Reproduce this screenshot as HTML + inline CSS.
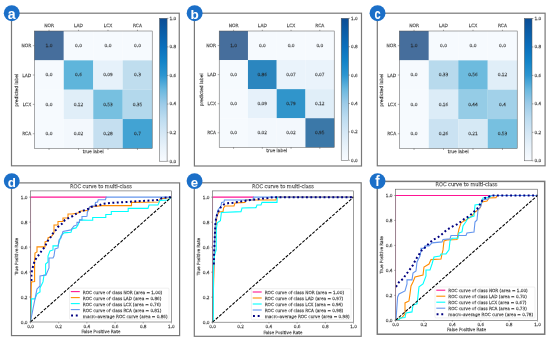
<!DOCTYPE html><html><head><meta charset="utf-8"><title>Figure</title>
<style>html,body{margin:0;padding:0;background:#fff}svg{display:block}.t text{fill:none;stroke:#1e1e1e;stroke-width:.26px}.h text{stroke-width:.19px;stroke:#111}</style></head><body>
<svg width="550" height="341" viewBox="0 0 550 341">
<defs><linearGradient id="cb" x1="0" y1="1" x2="0" y2="0">
<stop offset="0" stop-color="#f8fbff"/>
<stop offset="0.1" stop-color="#e8f2fa"/>
<stop offset="0.2" stop-color="#d4e7f5"/>
<stop offset="0.3" stop-color="#bcdcf0"/>
<stop offset="0.4" stop-color="#9ccbe8"/>
<stop offset="0.5" stop-color="#6ab8df"/>
<stop offset="0.6" stop-color="#2c96d1"/>
<stop offset="0.7" stop-color="#1283c8"/>
<stop offset="0.8" stop-color="#0a6fbc"/>
<stop offset="0.9" stop-color="#0a5ea8"/>
<stop offset="1" stop-color="#0b4c94"/>
</linearGradient></defs>
<rect width="550" height="341" fill="#fff"/>
<rect x="11.5" y="13.2" width="167.75" height="152.6" fill="#fff" stroke="#787878" stroke-width="1.2"/>
<rect x="194.4" y="13.2" width="167.1" height="152.8" fill="#fff" stroke="#787878" stroke-width="1.2"/>
<rect x="377.3" y="13.2" width="167.8" height="152.6" fill="#fff" stroke="#787878" stroke-width="1.2"/>
<rect x="11.5" y="182.9" width="168.1" height="152.7" fill="#fff" stroke="#787878" stroke-width="1.2"/>
<rect x="194.3" y="182.8" width="166.9" height="153.5" fill="#fff" stroke="#787878" stroke-width="1.2"/>
<rect x="377.3" y="181.4" width="167.4" height="152.8" fill="#fff" stroke="#787878" stroke-width="1.5"/>
<g font-family="DejaVu Sans, Liberation Sans, sans-serif" class="t" class="h" font-size="4.4" fill="#2a2a2a">
<rect x="34.3" y="31" width="29.52" height="29.4" fill="#466e9c"/>
<rect x="63.77" y="31" width="29.52" height="29.4" fill="#f6fafe"/>
<rect x="93.25" y="31" width="29.52" height="29.4" fill="#f6fafe"/>
<rect x="122.72" y="31" width="29.52" height="29.4" fill="#f6fafe"/>
<rect x="34.3" y="60.35" width="29.52" height="29.4" fill="#f6fafe"/>
<rect x="63.77" y="60.35" width="29.52" height="29.4" fill="#5fb5db"/>
<rect x="93.25" y="60.35" width="29.52" height="29.4" fill="#e6f1fa"/>
<rect x="122.72" y="60.35" width="29.52" height="29.4" fill="#bfddee"/>
<rect x="34.3" y="89.7" width="29.52" height="29.4" fill="#f6fafe"/>
<rect x="63.77" y="89.7" width="29.52" height="29.4" fill="#e0eef8"/>
<rect x="93.25" y="89.7" width="29.52" height="29.4" fill="#77c0e0"/>
<rect x="122.72" y="89.7" width="29.52" height="29.4" fill="#b3d8ec"/>
<rect x="34.3" y="119.05" width="29.52" height="29.4" fill="#f6fafe"/>
<rect x="63.77" y="119.05" width="29.52" height="29.4" fill="#f3f8fd"/>
<rect x="93.25" y="119.05" width="29.52" height="29.4" fill="#c5dff0"/>
<rect x="122.72" y="119.05" width="29.52" height="29.4" fill="#42a3d3"/>
<rect x="34.3" y="31" width="117.9" height="117.4" fill="none" stroke="#555" stroke-width="0.5"/>
<text x="49.04" y="46.92" text-anchor="middle" font-size="4.3">1.0</text>
<text x="78.51" y="46.92" text-anchor="middle" font-size="4.3">0.0</text>
<text x="107.99" y="46.92" text-anchor="middle" font-size="4.3">0.0</text>
<text x="137.46" y="46.92" text-anchor="middle" font-size="4.3">0.0</text>
<text x="49.04" y="76.28" text-anchor="middle" font-size="4.3">0.0</text>
<text x="78.51" y="76.28" text-anchor="middle" font-size="4.3">0.6</text>
<text x="107.99" y="76.28" text-anchor="middle" font-size="4.3">0.09</text>
<text x="137.46" y="76.28" text-anchor="middle" font-size="4.3">0.3</text>
<text x="49.04" y="105.62" text-anchor="middle" font-size="4.3">0.0</text>
<text x="78.51" y="105.62" text-anchor="middle" font-size="4.3">0.12</text>
<text x="107.99" y="105.62" text-anchor="middle" font-size="4.3">0.53</text>
<text x="137.46" y="105.62" text-anchor="middle" font-size="4.3">0.35</text>
<text x="49.04" y="134.98" text-anchor="middle" font-size="4.3">0.0</text>
<text x="78.51" y="134.98" text-anchor="middle" font-size="4.3">0.02</text>
<text x="107.99" y="134.98" text-anchor="middle" font-size="4.3">0.28</text>
<text x="137.46" y="134.98" text-anchor="middle" font-size="4.3">0.7</text>
<text x="49.04" y="27" text-anchor="middle">NOR</text>
<text x="31.2" y="47.17" text-anchor="end">NOR</text>
<path d="M49.04 31v-1.2M49.04 148.4v1.6M34.3 45.67h-1.5" stroke="#333" stroke-width="0.4"/>
<text x="78.51" y="27" text-anchor="middle">LAD</text>
<text x="31.2" y="76.53" text-anchor="end">LAD</text>
<path d="M78.51 31v-1.2M78.51 148.4v1.6M34.3 75.03h-1.5" stroke="#333" stroke-width="0.4"/>
<text x="107.99" y="27" text-anchor="middle">LCX</text>
<text x="31.2" y="105.88" text-anchor="end">LCX</text>
<path d="M107.99 31v-1.2M107.99 148.4v1.6M34.3 104.38h-1.5" stroke="#333" stroke-width="0.4"/>
<text x="137.46" y="27" text-anchor="middle">RCA</text>
<text x="31.2" y="135.23" text-anchor="end">RCA</text>
<path d="M137.46 31v-1.2M137.46 148.4v1.6M34.3 133.73h-1.5" stroke="#333" stroke-width="0.4"/>
<text transform="translate(18.3 90.3) rotate(-90)" text-anchor="middle">predicted label</text>
<text x="93.25" y="153.3" text-anchor="middle">true label</text>
<rect x="159.5" y="18.3" width="7.6" height="142.9" fill="url(#cb)" stroke="#555" stroke-width="0.5"/>
<path d="M167.1 161.2h1.4" stroke="#333" stroke-width="0.4"/>
<text x="169.6" y="162.6" font-size="4.2">0.0</text>
<path d="M167.1 132.62h1.4" stroke="#333" stroke-width="0.4"/>
<text x="169.6" y="134.02" font-size="4.2">0.2</text>
<path d="M167.1 104.04h1.4" stroke="#333" stroke-width="0.4"/>
<text x="169.6" y="105.44" font-size="4.2">0.4</text>
<path d="M167.1 75.46h1.4" stroke="#333" stroke-width="0.4"/>
<text x="169.6" y="76.86" font-size="4.2">0.6</text>
<path d="M167.1 46.88h1.4" stroke="#333" stroke-width="0.4"/>
<text x="169.6" y="48.28" font-size="4.2">0.8</text>
<path d="M167.1 18.3h1.4" stroke="#333" stroke-width="0.4"/>
<text x="169.6" y="19.7" font-size="4.2">1.0</text>
</g>
<g font-family="DejaVu Sans, Liberation Sans, sans-serif" class="t" class="h" font-size="4.4" fill="#2a2a2a">
<rect x="219.2" y="31" width="28.8" height="29.13" fill="#466e9c"/>
<rect x="247.95" y="31" width="28.8" height="29.13" fill="#f6fafe"/>
<rect x="276.7" y="31" width="28.8" height="29.13" fill="#f6fafe"/>
<rect x="305.45" y="31" width="28.8" height="29.13" fill="#f6fafe"/>
<rect x="219.2" y="60.08" width="28.8" height="29.13" fill="#f6fafe"/>
<rect x="247.95" y="60.08" width="28.8" height="29.13" fill="#2b86bf"/>
<rect x="276.7" y="60.08" width="28.8" height="29.13" fill="#eaf3fb"/>
<rect x="305.45" y="60.08" width="28.8" height="29.13" fill="#eaf3fb"/>
<rect x="219.2" y="89.15" width="28.8" height="29.13" fill="#f6fafe"/>
<rect x="247.95" y="89.15" width="28.8" height="29.13" fill="#e6f1fa"/>
<rect x="276.7" y="89.15" width="28.8" height="29.13" fill="#3095cb"/>
<rect x="305.45" y="89.15" width="28.8" height="29.13" fill="#e0eef8"/>
<rect x="219.2" y="118.23" width="28.8" height="29.13" fill="#f6fafe"/>
<rect x="247.95" y="118.23" width="28.8" height="29.13" fill="#f3f8fd"/>
<rect x="276.7" y="118.23" width="28.8" height="29.13" fill="#f3f8fd"/>
<rect x="305.45" y="118.23" width="28.8" height="29.13" fill="#3b78a8"/>
<rect x="219.2" y="31" width="115" height="116.3" fill="none" stroke="#555" stroke-width="0.5"/>
<text x="233.57" y="46.79" text-anchor="middle" font-size="4.3">1.0</text>
<text x="262.32" y="46.79" text-anchor="middle" font-size="4.3">0.0</text>
<text x="291.07" y="46.79" text-anchor="middle" font-size="4.3">0.0</text>
<text x="319.82" y="46.79" text-anchor="middle" font-size="4.3">0.0</text>
<text x="233.57" y="75.86" text-anchor="middle" font-size="4.3">0.0</text>
<text x="262.32" y="75.86" text-anchor="middle" font-size="4.3">0.86</text>
<text x="291.07" y="75.86" text-anchor="middle" font-size="4.3">0.07</text>
<text x="319.82" y="75.86" text-anchor="middle" font-size="4.3">0.07</text>
<text x="233.57" y="104.94" text-anchor="middle" font-size="4.3">0.0</text>
<text x="262.32" y="104.94" text-anchor="middle" font-size="4.3">0.09</text>
<text x="291.07" y="104.94" text-anchor="middle" font-size="4.3">0.79</text>
<text x="319.82" y="104.94" text-anchor="middle" font-size="4.3">0.12</text>
<text x="233.57" y="134.01" text-anchor="middle" font-size="4.3">0.0</text>
<text x="262.32" y="134.01" text-anchor="middle" font-size="4.3">0.02</text>
<text x="291.07" y="134.01" text-anchor="middle" font-size="4.3">0.02</text>
<text x="319.82" y="134.01" text-anchor="middle" font-size="4.3">0.95</text>
<text x="233.57" y="27" text-anchor="middle">NOR</text>
<text x="216.1" y="47.04" text-anchor="end">NOR</text>
<path d="M233.57 31v-1.2M233.57 147.3v1.6M219.2 45.54h-1.5" stroke="#333" stroke-width="0.4"/>
<text x="262.32" y="27" text-anchor="middle">LAD</text>
<text x="216.1" y="76.11" text-anchor="end">LAD</text>
<path d="M262.32 31v-1.2M262.32 147.3v1.6M219.2 74.61h-1.5" stroke="#333" stroke-width="0.4"/>
<text x="291.07" y="27" text-anchor="middle">LCX</text>
<text x="216.1" y="105.19" text-anchor="end">LCX</text>
<path d="M291.07 31v-1.2M291.07 147.3v1.6M219.2 103.69h-1.5" stroke="#333" stroke-width="0.4"/>
<text x="319.82" y="27" text-anchor="middle">RCA</text>
<text x="216.1" y="134.26" text-anchor="end">RCA</text>
<path d="M319.82 31v-1.2M319.82 147.3v1.6M219.2 132.76h-1.5" stroke="#333" stroke-width="0.4"/>
<text transform="translate(203.2 89.75) rotate(-90)" text-anchor="middle">predicted label</text>
<text x="276.7" y="152.2" text-anchor="middle">true label</text>
<rect x="341.2" y="18.3" width="7.4" height="142" fill="url(#cb)" stroke="#555" stroke-width="0.5"/>
<path d="M348.6 160.3h1.4" stroke="#333" stroke-width="0.4"/>
<text x="351.1" y="161.7" font-size="4.2">0.0</text>
<path d="M348.6 131.9h1.4" stroke="#333" stroke-width="0.4"/>
<text x="351.1" y="133.3" font-size="4.2">0.2</text>
<path d="M348.6 103.5h1.4" stroke="#333" stroke-width="0.4"/>
<text x="351.1" y="104.9" font-size="4.2">0.4</text>
<path d="M348.6 75.1h1.4" stroke="#333" stroke-width="0.4"/>
<text x="351.1" y="76.5" font-size="4.2">0.6</text>
<path d="M348.6 46.7h1.4" stroke="#333" stroke-width="0.4"/>
<text x="351.1" y="48.1" font-size="4.2">0.8</text>
<path d="M348.6 18.3h1.4" stroke="#333" stroke-width="0.4"/>
<text x="351.1" y="19.7" font-size="4.2">1.0</text>
</g>
<g font-family="DejaVu Sans, Liberation Sans, sans-serif" class="t" class="h" font-size="4.4" fill="#2a2a2a">
<rect x="399.3" y="31" width="29.53" height="29.4" fill="#466e9c"/>
<rect x="428.78" y="31" width="29.53" height="29.4" fill="#f6fafe"/>
<rect x="458.25" y="31" width="29.53" height="29.4" fill="#f6fafe"/>
<rect x="487.73" y="31" width="29.53" height="29.4" fill="#f6fafe"/>
<rect x="399.3" y="60.35" width="29.53" height="29.4" fill="#f6fafe"/>
<rect x="428.78" y="60.35" width="29.53" height="29.4" fill="#b8daed"/>
<rect x="458.25" y="60.35" width="29.53" height="29.4" fill="#6dbbde"/>
<rect x="487.73" y="60.35" width="29.53" height="29.4" fill="#e0eef8"/>
<rect x="399.3" y="89.7" width="29.53" height="29.4" fill="#f6fafe"/>
<rect x="428.78" y="89.7" width="29.53" height="29.4" fill="#dcecf7"/>
<rect x="458.25" y="89.7" width="29.53" height="29.4" fill="#95cce6"/>
<rect x="487.73" y="89.7" width="29.53" height="29.4" fill="#a2d1e9"/>
<rect x="399.3" y="119.05" width="29.53" height="29.4" fill="#f6fafe"/>
<rect x="428.78" y="119.05" width="29.53" height="29.4" fill="#cae2f2"/>
<rect x="458.25" y="119.05" width="29.53" height="29.4" fill="#d6e9f5"/>
<rect x="487.73" y="119.05" width="29.53" height="29.4" fill="#77c0e0"/>
<rect x="399.3" y="31" width="117.9" height="117.4" fill="none" stroke="#555" stroke-width="0.5"/>
<text x="414.04" y="46.92" text-anchor="middle" font-size="4.3">1.0</text>
<text x="443.51" y="46.92" text-anchor="middle" font-size="4.3">0.0</text>
<text x="472.99" y="46.92" text-anchor="middle" font-size="4.3">0.0</text>
<text x="502.46" y="46.92" text-anchor="middle" font-size="4.3">0.0</text>
<text x="414.04" y="76.28" text-anchor="middle" font-size="4.3">0.0</text>
<text x="443.51" y="76.28" text-anchor="middle" font-size="4.3">0.33</text>
<text x="472.99" y="76.28" text-anchor="middle" font-size="4.3">0.56</text>
<text x="502.46" y="76.28" text-anchor="middle" font-size="4.3">0.12</text>
<text x="414.04" y="105.62" text-anchor="middle" font-size="4.3">0.0</text>
<text x="443.51" y="105.62" text-anchor="middle" font-size="4.3">0.16</text>
<text x="472.99" y="105.62" text-anchor="middle" font-size="4.3">0.44</text>
<text x="502.46" y="105.62" text-anchor="middle" font-size="4.3">0.4</text>
<text x="414.04" y="134.98" text-anchor="middle" font-size="4.3">0.0</text>
<text x="443.51" y="134.98" text-anchor="middle" font-size="4.3">0.26</text>
<text x="472.99" y="134.98" text-anchor="middle" font-size="4.3">0.21</text>
<text x="502.46" y="134.98" text-anchor="middle" font-size="4.3">0.53</text>
<text x="414.04" y="27" text-anchor="middle">NOR</text>
<text x="396.2" y="47.17" text-anchor="end">NOR</text>
<path d="M414.04 31v-1.2M414.04 148.4v1.6M399.3 45.67h-1.5" stroke="#333" stroke-width="0.4"/>
<text x="443.51" y="27" text-anchor="middle">LAD</text>
<text x="396.2" y="76.53" text-anchor="end">LAD</text>
<path d="M443.51 31v-1.2M443.51 148.4v1.6M399.3 75.03h-1.5" stroke="#333" stroke-width="0.4"/>
<text x="472.99" y="27" text-anchor="middle">LCX</text>
<text x="396.2" y="105.88" text-anchor="end">LCX</text>
<path d="M472.99 31v-1.2M472.99 148.4v1.6M399.3 104.38h-1.5" stroke="#333" stroke-width="0.4"/>
<text x="502.46" y="27" text-anchor="middle">RCA</text>
<text x="396.2" y="135.23" text-anchor="end">RCA</text>
<path d="M502.46 31v-1.2M502.46 148.4v1.6M399.3 133.73h-1.5" stroke="#333" stroke-width="0.4"/>
<text transform="translate(383.3 90.3) rotate(-90)" text-anchor="middle">predicted label</text>
<text x="458.25" y="153.3" text-anchor="middle">true label</text>
<rect x="524.4" y="18.5" width="7.6" height="142.3" fill="url(#cb)" stroke="#555" stroke-width="0.5"/>
<path d="M532 160.8h1.4" stroke="#333" stroke-width="0.4"/>
<text x="534.5" y="162.2" font-size="4.2">0.0</text>
<path d="M532 132.34h1.4" stroke="#333" stroke-width="0.4"/>
<text x="534.5" y="133.74" font-size="4.2">0.2</text>
<path d="M532 103.88h1.4" stroke="#333" stroke-width="0.4"/>
<text x="534.5" y="105.28" font-size="4.2">0.4</text>
<path d="M532 75.42h1.4" stroke="#333" stroke-width="0.4"/>
<text x="534.5" y="76.82" font-size="4.2">0.6</text>
<path d="M532 46.96h1.4" stroke="#333" stroke-width="0.4"/>
<text x="534.5" y="48.36" font-size="4.2">0.8</text>
<path d="M532 18.5h1.4" stroke="#333" stroke-width="0.4"/>
<text x="534.5" y="19.9" font-size="4.2">1.0</text>
</g>
<g font-family="DejaVu Sans, Liberation Sans, sans-serif" class="t" font-size="4.2" fill="#2a2a2a">
<clipPath id="cpd"><rect x="30.5" y="190.9" width="140.9" height="131.1"/></clipPath>
<g clip-path="url(#cpd)">
<polyline points="30.5,322 30.5,197.14" fill="none" stroke="#ff1493" stroke-width="1.1" stroke-linejoin="miter" stroke-opacity="0.5"/>
<polyline points="30.5,197.14 106.5,197.14" fill="none" stroke="#ff1493" stroke-width="1.1" stroke-linejoin="miter" />
<polyline points="30.5,321.5 31.4,282 34.6,281.5 34.6,262 35,253 37,251.9 37,246.9 45,246.9 45,241.9 48,240.9 48,237.9 52,235.9 54,232.9 54,225 58,225 58,221.5 63,221.5 63,218 68,218 68,214 72,214 78,213 81,211 88,210.4 90,207 102,205.6 131.5,205.6 131.5,202.4 159,202 160,199 171.4,197.14 171.4,197.14" fill="none" stroke="#ff8c00" stroke-width="1.1" stroke-linejoin="miter" />
<polyline points="30.5,321.5 31.4,302.9 31.4,298.9 35,298.9 37,293.9 40,291.9 40,287.9 43,281.9 44,275 45.6,275 45.6,264 48,262 48,256 50,250.9 53,249.9 53,245.9 58,245.9 61,235.9 64,232.9 71,232.3 72,228.9 76,227.9 78,224.9 80,219.9 88,220.2 92.7,220.2 92.7,217.5 105.8,217.5 105.8,214.5 111.3,214.5 111.3,211.5 128.2,211.5 128.2,208.4 148,208.4 149,205 158,205 160,200.4 168,200 171.4,197.14 171.4,197.14" fill="none" stroke="#00ffff" stroke-width="1.1" stroke-linejoin="miter" />
<polyline points="30.5,321.5 36,293.9 37,288.9 40,285.9 40,276 46,275 49,268 49,258 53,258 54,256 55,248.9 58,247.9 59,239.9 61,237.9 63,231.5 71,229.9 74,225.9 77,224.9 77,222.4 79.5,222.4 79.5,219.9 82,219.9 82,216.5 86,216.5 87,216.2 87.3,212.4 88.9,209.1 90,206.4 94.9,205.8 95.5,202.5 97.6,202 98.2,199.8 105.5,199.6 106.2,197.14 171.4,197.14" fill="none" stroke="#6495ed" stroke-width="1.1" stroke-linejoin="miter" />
<polyline points="31.4,281 31.4,273 32.4,269 33.4,265 34.6,261 37,257 40,253.5 42,249.9 45,246.9 47,241.9 49.4,238.9 51.6,235.9 53.5,232.3 56,229.9 58,226.9 62.3,223.5 65,219.9 69,217.9 73,215.9 76,213.9 79.5,212 84,210.4 88,209 91,207 96,205.6 100,205 102,204 110,203 132,201.6 158,200 162,198 171.4,197.14 171.4,197.14" fill="none" stroke="#000080" stroke-width="2.0" stroke-linejoin="miter" stroke-dasharray="1.9 2.5"/>
<line x1="30.5" y1="322" x2="171.4" y2="197.14" stroke="#000" stroke-width="1.05" stroke-dasharray="3.1 1.35"/>
</g>
<rect x="30.5" y="190.9" width="140.9" height="131.1" fill="none" stroke="#5a5a5a" stroke-width="0.6"/>
<path d="M30.5 322v1.5M30.5 322h-1.5" stroke="#333" stroke-width="0.35"/>
<text x="30.5" y="327.6" text-anchor="middle">0.0</text>
<text x="27.5" y="323.5" text-anchor="end">0.0</text>
<path d="M58.68 322v1.5M30.5 297.03h-1.5" stroke="#333" stroke-width="0.35"/>
<text x="58.68" y="327.6" text-anchor="middle">0.2</text>
<text x="27.5" y="298.53" text-anchor="end">0.2</text>
<path d="M86.86 322v1.5M30.5 272.06h-1.5" stroke="#333" stroke-width="0.35"/>
<text x="86.86" y="327.6" text-anchor="middle">0.4</text>
<text x="27.5" y="273.56" text-anchor="end">0.4</text>
<path d="M115.04 322v1.5M30.5 247.09h-1.5" stroke="#333" stroke-width="0.35"/>
<text x="115.04" y="327.6" text-anchor="middle">0.6</text>
<text x="27.5" y="248.59" text-anchor="end">0.6</text>
<path d="M143.22 322v1.5M30.5 222.11h-1.5" stroke="#333" stroke-width="0.35"/>
<text x="143.22" y="327.6" text-anchor="middle">0.8</text>
<text x="27.5" y="223.61" text-anchor="end">0.8</text>
<path d="M171.4 322v1.5M30.5 197.14h-1.5" stroke="#333" stroke-width="0.35"/>
<text x="171.4" y="327.6" text-anchor="middle">1.0</text>
<text x="27.5" y="198.64" text-anchor="end">1.0</text>
<text x="100.95" y="332.9" text-anchor="middle">False Positive Rate</text>
<text transform="translate(17.9 256.45) rotate(-90)" text-anchor="middle">True Positive Rate</text>
<text x="100.95" y="188.15" text-anchor="middle" font-size="5.02">ROC curve to multi-class</text>
<rect x="69.5" y="288.2" width="99.5" height="31" rx="0.9" fill="#fff" fill-opacity="0.8" stroke="#d8d8d8" stroke-width="0.4"/>
<line x1="70.8" y1="291.6" x2="79.8" y2="291.6" stroke="#ff1493" stroke-width="1.1"/>
<text x="82.8" y="293.6">ROC curve of class NOR (area = 1.00)</text>
<line x1="70.8" y1="297.6" x2="79.8" y2="297.6" stroke="#ff8c00" stroke-width="1.1"/>
<text x="82.8" y="299.6">ROC curve of class LAD (area = 0.86)</text>
<line x1="70.8" y1="303.6" x2="79.8" y2="303.6" stroke="#00ffff" stroke-width="1.1"/>
<text x="82.8" y="305.6">ROC curve of class LCX (area = 0.76)</text>
<line x1="70.8" y1="309.6" x2="79.8" y2="309.6" stroke="#6495ed" stroke-width="1.1"/>
<text x="82.8" y="311.6">ROC curve of class RCA (area = 0.81)</text>
<line x1="71.1" y1="315.6" x2="79.8" y2="315.6" stroke="#000080" stroke-width="2.0" stroke-dasharray="1.9 2.8"/>
<text x="82.8" y="317.6">macro-average ROC curve (area = 0.86)</text>
</g>
<g font-family="DejaVu Sans, Liberation Sans, sans-serif" class="t" font-size="4.2" fill="#2a2a2a">
<clipPath id="cpe"><rect x="212.5" y="190.9" width="141" height="131.3"/></clipPath>
<g clip-path="url(#cpe)">
<polyline points="212.5,322.2 212.5,197.15" fill="none" stroke="#ff1493" stroke-width="1.1" stroke-linejoin="miter" stroke-opacity="0.5"/>
<polyline points="212.5,197.15 253.8,197.15" fill="none" stroke="#ff1493" stroke-width="1.1" stroke-linejoin="miter" />
<polyline points="212.5,321.8 214.4,256 215,234 216,224 217,216 219,212 223,211.6 223.6,208 225,206 234,206 235,203 245,202.4 246,200 276,200 277,197.15 353.5,197.15" fill="none" stroke="#ff8c00" stroke-width="1.1" stroke-linejoin="miter" />
<polyline points="212.5,321.8 214,256 215,228 216,218 218,210 221,206 221.6,202.4 224,202 224.4,200 253,200 253.5,197.15 353.5,197.15" fill="none" stroke="#6495ed" stroke-width="1.1" stroke-linejoin="miter" />
<polyline points="212.5,322.2 213.3,320 213.4,268 214.6,255 216.2,250 216.3,229 217.3,222.8 220.4,220.7 221.4,212.5 241,211.6 242,208 256,207.6 257,205 261,205 262,202.4 277,202.4 277.3,197.15" fill="none" stroke="#00ffff" stroke-width="1.1" stroke-linejoin="miter" />
<polyline points="213.8,264.5 214,256 214.3,248 214.6,240 215,232 215.4,224 216,219 217,215 219,210 221,207 224,204.4 228,203.2 233,202.8 238,202 244,201 250,200 256,199.4 262,198.6 268,198 273,197.15 277,197.15 353.5,197.15" fill="none" stroke="#000080" stroke-width="2.0" stroke-linejoin="miter" stroke-dasharray="1.9 2.5"/>
<line x1="212.5" y1="322.2" x2="353.5" y2="197.15" stroke="#000" stroke-width="1.05" stroke-dasharray="3.1 1.35"/>
</g>
<rect x="212.5" y="190.9" width="141" height="131.3" fill="none" stroke="#5a5a5a" stroke-width="0.6"/>
<path d="M212.5 322.2v1.5M212.5 322.2h-1.5" stroke="#333" stroke-width="0.35"/>
<text x="212.5" y="327.8" text-anchor="middle">0.0</text>
<text x="209.5" y="323.7" text-anchor="end">0.0</text>
<path d="M240.7 322.2v1.5M212.5 297.19h-1.5" stroke="#333" stroke-width="0.35"/>
<text x="240.7" y="327.8" text-anchor="middle">0.2</text>
<text x="209.5" y="298.69" text-anchor="end">0.2</text>
<path d="M268.9 322.2v1.5M212.5 272.18h-1.5" stroke="#333" stroke-width="0.35"/>
<text x="268.9" y="327.8" text-anchor="middle">0.4</text>
<text x="209.5" y="273.68" text-anchor="end">0.4</text>
<path d="M297.1 322.2v1.5M212.5 247.17h-1.5" stroke="#333" stroke-width="0.35"/>
<text x="297.1" y="327.8" text-anchor="middle">0.6</text>
<text x="209.5" y="248.67" text-anchor="end">0.6</text>
<path d="M325.3 322.2v1.5M212.5 222.16h-1.5" stroke="#333" stroke-width="0.35"/>
<text x="325.3" y="327.8" text-anchor="middle">0.8</text>
<text x="209.5" y="223.66" text-anchor="end">0.8</text>
<path d="M353.5 322.2v1.5M212.5 197.15h-1.5" stroke="#333" stroke-width="0.35"/>
<text x="353.5" y="327.8" text-anchor="middle">1.0</text>
<text x="209.5" y="198.65" text-anchor="end">1.0</text>
<text x="283" y="333.9" text-anchor="middle">False Positive Rate</text>
<text transform="translate(199.9 256.55) rotate(-90)" text-anchor="middle">True Positive Rate</text>
<text x="283" y="188.15" text-anchor="middle" font-size="5.02">ROC curve to multi-class</text>
<rect x="251.4" y="288.7" width="99.6" height="31" rx="0.9" fill="#fff" fill-opacity="0.8" stroke="#d8d8d8" stroke-width="0.4"/>
<line x1="252.7" y1="292" x2="261.7" y2="292" stroke="#ff1493" stroke-width="1.1"/>
<text x="264.7" y="294.3">ROC curve of class NOR (area = 1.00)</text>
<line x1="252.7" y1="298" x2="261.7" y2="298" stroke="#ff8c00" stroke-width="1.1"/>
<text x="264.7" y="300.3">ROC curve of class LAD (area = 0.97)</text>
<line x1="252.7" y1="304" x2="261.7" y2="304" stroke="#00ffff" stroke-width="1.1"/>
<text x="264.7" y="306.3">ROC curve of class LCX (area = 0.94)</text>
<line x1="252.7" y1="310" x2="261.7" y2="310" stroke="#6495ed" stroke-width="1.1"/>
<text x="264.7" y="312.3">ROC curve of class RCA (area = 0.98)</text>
<line x1="253" y1="316" x2="261.7" y2="316" stroke="#000080" stroke-width="2.0" stroke-dasharray="1.9 2.8"/>
<text x="264.7" y="318.3">macro-average ROC curve (area = 0.98)</text>
</g>
<g font-family="DejaVu Sans, Liberation Sans, sans-serif" class="t" font-size="4.2" fill="#2a2a2a">
<clipPath id="cpf"><rect x="395.5" y="189.2" width="142.1" height="131.1"/></clipPath>
<g clip-path="url(#cpf)">
<polyline points="395.5,320.3 395.5,195.44" fill="none" stroke="#ff1493" stroke-width="1.1" stroke-linejoin="miter" stroke-opacity="0.5"/>
<polyline points="395.5,195.44 489.3,195.44" fill="none" stroke="#ff1493" stroke-width="1.1" stroke-linejoin="miter" />
<polyline points="395.5,320 399,318.9 402,317.5 405,313.9 405,302.9 409,300.9 410,293.9 411,285.9 413,281.9 415,277 423,275 424,267 429,264 431,259.6 441,259 442,254 443,249.9 444,240.9 447,239.9 457,239.5 458,233.9 459,228.9 461,222.9 464,220.9 466,220 469,218 472,216 475,212 478,210 480,208 482,202 487,201 489,198 496,197.6 497,195.44 537.6,195.44" fill="none" stroke="#ff8c00" stroke-width="1.1" stroke-linejoin="miter" />
<polyline points="395.5,320 399,319.5 401,317.9 405,317.5 406,312.9 412,311.9 413,304.9 417,303.9 418,295.9 419,286.9 423,283.9 426,276 426,270 430,270 432,264 434,257 440,256 441,254 446,253.9 449,249.9 450,240.9 452,238.3 458,238.3 459,232.9 462,231.9 463,225.9 466,221.5 468,218 474,216 475,205 481,204 483,198 490,197 492,195.44 537.6,195.44" fill="none" stroke="#00ffff" stroke-width="1.1" stroke-linejoin="miter" />
<polyline points="396,319.9 397.6,296.9 399,293.9 405,290.9 407,283.9 407,279.9 412,279.9 413,273 416,271 417,262 420,256 421,250.9 421,248.4 425,248.4 425,245.9 429,245.9 432,242.9 442,241.9 443,239.5 450,238.9 451,235.5 466,235.5 467,233 474,232 475,222 477,220 478,210 481,206 482,200 488,199 489,195.44 537.6,195.44" fill="none" stroke="#6495ed" stroke-width="1.1" stroke-linejoin="miter" />
<polyline points="396,287 397.6,284 400,281 403,279 405.6,275 408,272 410.6,268.4 413,265 415,261 417,257.6 419,254.6 422,249.9 424.5,247.9 427.5,244.9 430,242.5 433.5,239.5 437,237.9 440.5,235.5 443.5,232.9 446.3,230.3 450,227.9 453.5,225.9 457,224.3 461,221.5 464.3,218.9 466,218 470,215.5 473.6,212 477,209 479.6,205 482,201 484,198.4 488,197 492,195.44 496,195.44 500,195.44 537.6,195.44" fill="none" stroke="#000080" stroke-width="2.0" stroke-linejoin="miter" stroke-dasharray="1.9 2.5"/>
<line x1="395.5" y1="320.3" x2="537.6" y2="195.44" stroke="#000" stroke-width="1.05" stroke-dasharray="3.1 1.35"/>
</g>
<rect x="395.5" y="189.2" width="142.1" height="131.1" fill="none" stroke="#5a5a5a" stroke-width="0.6"/>
<path d="M395.5 320.3v1.5M395.5 320.3h-1.5" stroke="#333" stroke-width="0.35"/>
<text x="395.5" y="325.9" text-anchor="middle">0.0</text>
<text x="392.5" y="321.8" text-anchor="end">0.0</text>
<path d="M423.92 320.3v1.5M395.5 295.33h-1.5" stroke="#333" stroke-width="0.35"/>
<text x="423.92" y="325.9" text-anchor="middle">0.2</text>
<text x="392.5" y="296.83" text-anchor="end">0.2</text>
<path d="M452.34 320.3v1.5M395.5 270.36h-1.5" stroke="#333" stroke-width="0.35"/>
<text x="452.34" y="325.9" text-anchor="middle">0.4</text>
<text x="392.5" y="271.86" text-anchor="end">0.4</text>
<path d="M480.76 320.3v1.5M395.5 245.39h-1.5" stroke="#333" stroke-width="0.35"/>
<text x="480.76" y="325.9" text-anchor="middle">0.6</text>
<text x="392.5" y="246.89" text-anchor="end">0.6</text>
<path d="M509.18 320.3v1.5M395.5 220.41h-1.5" stroke="#333" stroke-width="0.35"/>
<text x="509.18" y="325.9" text-anchor="middle">0.8</text>
<text x="392.5" y="221.91" text-anchor="end">0.8</text>
<path d="M537.6 320.3v1.5M395.5 195.44h-1.5" stroke="#333" stroke-width="0.35"/>
<text x="537.6" y="325.9" text-anchor="middle">1.0</text>
<text x="392.5" y="196.94" text-anchor="end">1.0</text>
<text x="466.55" y="331.2" text-anchor="middle">False Positive Rate</text>
<text transform="translate(382.9 254.75) rotate(-90)" text-anchor="middle">True Positive Rate</text>
<text x="466.55" y="186.45" text-anchor="middle" font-size="5.02">ROC curve to multi-class</text>
<rect x="435" y="287" width="100" height="30.9" rx="0.9" fill="#fff" fill-opacity="0.8" stroke="#d8d8d8" stroke-width="0.4"/>
<line x1="436.3" y1="290.2" x2="445.3" y2="290.2" stroke="#ff1493" stroke-width="1.1"/>
<text x="448.3" y="291.75">ROC curve of class NOR (area = 1.00)</text>
<line x1="436.3" y1="296.2" x2="445.3" y2="296.2" stroke="#ff8c00" stroke-width="1.1"/>
<text x="448.3" y="297.75">ROC curve of class LAD (area = 0.70)</text>
<line x1="436.3" y1="302.2" x2="445.3" y2="302.2" stroke="#00ffff" stroke-width="1.1"/>
<text x="448.3" y="303.75">ROC curve of class LCX (area = 0.67)</text>
<line x1="436.3" y1="308.2" x2="445.3" y2="308.2" stroke="#6495ed" stroke-width="1.1"/>
<text x="448.3" y="309.75">ROC curve of class RCA (area = 0.73)</text>
<line x1="436.6" y1="314.2" x2="445.3" y2="314.2" stroke="#000080" stroke-width="2.0" stroke-dasharray="1.9 2.8"/>
<text x="448.3" y="315.75">macro-average ROC curve (area = 0.78)</text>
</g>
<circle cx="11.75" cy="13.2" r="7.95" fill="#1b6fc8"/>
<text transform="translate(11.75 18.9) scale(0.98 1.045)" text-anchor="middle" font-family="Liberation Sans, sans-serif" font-weight="bold" font-size="14.4" fill="#fff">a</text>
<circle cx="194.65" cy="13.2" r="7.95" fill="#1b6fc8"/>
<text transform="translate(194.65 18.9) scale(0.94 0.935)" text-anchor="middle" font-family="Liberation Sans, sans-serif" font-weight="bold" font-size="14.4" fill="#fff">b</text>
<circle cx="377.55" cy="13.2" r="7.95" fill="#1b6fc8"/>
<text transform="translate(377.55 18.9) scale(0.77 1.0)" text-anchor="middle" font-family="Liberation Sans, sans-serif" font-weight="bold" font-size="14.4" fill="#fff">c</text>
<circle cx="11.75" cy="181.1" r="7.95" fill="#1b6fc8"/>
<text transform="translate(11.75 186.8) scale(0.93 0.945)" text-anchor="middle" font-family="Liberation Sans, sans-serif" font-weight="bold" font-size="14.4" fill="#fff">d</text>
<circle cx="194.55" cy="181.1" r="7.95" fill="#1b6fc8"/>
<text transform="translate(194.55 186.7) scale(0.92 0.91)" text-anchor="middle" font-family="Liberation Sans, sans-serif" font-weight="bold" font-size="14.4" fill="#fff">e</text>
<circle cx="377.55" cy="181.1" r="7.95" fill="#1b6fc8"/>
<text transform="translate(377.55 186.3) scale(0.92 0.97)" text-anchor="middle" font-family="Liberation Sans, sans-serif" font-weight="bold" font-size="14.4" fill="#fff">f</text>
</svg></body></html>
